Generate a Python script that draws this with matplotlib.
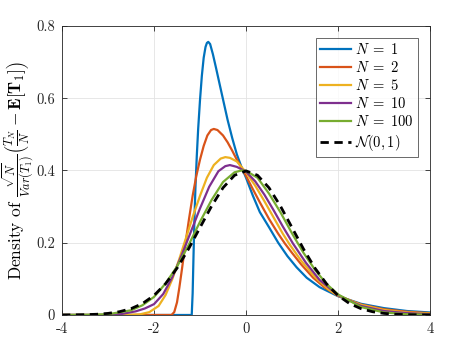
import matplotlib
matplotlib.use("Agg")
import matplotlib.pyplot as plt

plt.rcParams['font.family'] = 'cmr10'
plt.rcParams['mathtext.fontset'] = 'cm'
plt.rcParams['axes.unicode_minus'] = False

# values
x_n1 = [-4.0, -1.18, -1.16, -1.14, -1.12, -1.10, -1.07, -1.04, -1.00, -0.96, -0.92, -0.88,
        -0.85, -0.82, -0.78, -0.72, -0.65, -0.57, -0.50, -0.40, -0.30, -0.20, -0.10, 0.0, 0.15,
        0.30, 0.50, 0.70, 0.90, 1.10, 1.32, 1.60, 2.0, 2.5, 3.0, 3.5, 4.0]
y_n1 = [0.0, 0.0, 0.06, 0.17, 0.27, 0.35, 0.44, 0.515, 0.595, 0.662, 0.712, 0.742,
        0.753, 0.756, 0.75, 0.722, 0.683, 0.637, 0.597, 0.54, 0.49, 0.445, 0.41, 0.38, 0.33,
        0.285, 0.243, 0.20, 0.163, 0.132, 0.103, 0.077, 0.052, 0.031, 0.019, 0.011, 0.007]

x_n2 = [-4.0, -1.62, -1.56, -1.50, -1.45, -1.40, -1.32, -1.24, -1.16, -1.08, -1.0, -0.92,
        -0.84, -0.76, -0.70, -0.62, -0.50, -0.40, -0.30, -0.20, -0.10, 0.0, 0.15, 0.30,
        0.50, 0.70, 0.85, 1.0, 1.2, 1.46, 1.7, 2.0, 2.5, 3.0, 3.5, 4.0]
y_n2 = [0.0, 0.0, 0.008, 0.035, 0.075, 0.12, 0.195, 0.265, 0.33, 0.385, 0.43, 0.468,
        0.497, 0.512, 0.515, 0.512, 0.497, 0.478, 0.455, 0.43, 0.408, 0.385, 0.348, 0.312,
        0.266, 0.225, 0.197, 0.172, 0.14, 0.103, 0.077, 0.053, 0.029, 0.016, 0.009, 0.005]

x_n5 = [-4.0, -2.6, -2.3, -2.1, -1.9, -1.75, -1.6, -1.45, -1.3, -1.15, -1.0, -0.85,
        -0.7, -0.55, -0.45, -0.35, -0.2, 0.0, 0.2, 0.4, 0.6, 0.8, 0.95, 1.2,
        1.5, 1.8, 2.0, 2.5, 3.0, 3.5, 4.0]
y_n5 = [0.0, 0.0, 0.002, 0.008, 0.025, 0.055, 0.10, 0.155, 0.215, 0.275, 0.33, 0.38,
        0.415, 0.433, 0.437, 0.435, 0.425, 0.395, 0.358, 0.315, 0.27, 0.225, 0.195, 0.15,
        0.105, 0.07, 0.054, 0.028, 0.014, 0.007, 0.004]

x_n10 = [-4.0, -3.0, -2.7, -2.4, -2.2, -2.0, -1.8, -1.6, -1.4, -1.2, -1.0, -0.8,
         -0.6, -0.45, -0.35, -0.2, 0.0, 0.2, 0.4, 0.6, 0.8, 1.02, 1.3, 1.6,
         2.0, 2.5, 3.0, 3.5, 4.0]
y_n10 = [0.0, 0.0, 0.003, 0.01, 0.018, 0.03, 0.058, 0.105, 0.165, 0.23, 0.295, 0.355,
         0.398, 0.412, 0.415, 0.41, 0.397, 0.37, 0.333, 0.29, 0.245, 0.198, 0.145, 0.097,
         0.055, 0.025, 0.011, 0.005, 0.002]

x_n100 = [-4.0, -3.5, -3.0, -2.5, -2.25, -2.0, -1.75, -1.5, -1.25, -1.0, -0.75, -0.5,
          -0.25, -0.1, 0.0, 0.25, 0.5, 0.75, 1.0, 1.12, 1.25, 1.5, 1.75, 2.0,
          2.5, 3.0, 3.5, 4.0]
y_n100 = [0.0, 0.0004, 0.002, 0.013, 0.027, 0.05, 0.087, 0.134, 0.193, 0.258, 0.318, 0.368,
          0.395, 0.40, 0.399, 0.38, 0.336, 0.284, 0.226, 0.20, 0.172, 0.125, 0.086, 0.057,
          0.022, 0.007, 0.002, 0.0005]

x_gauss = [-4.0, -3.75, -3.5, -3.25, -3.0, -2.75, -2.5, -2.25, -2.0, -1.75, -1.5, -1.25,
           -1.0, -0.75, -0.5, -0.25, 0.0, 0.25, 0.5, 0.75, 1.0, 1.25, 1.5, 1.75,
           2.0, 2.25, 2.5, 2.75, 3.0, 3.25, 3.5, 3.75, 4.0]
y_gauss = [0.0001, 0.0004, 0.0009, 0.002, 0.0044, 0.0091, 0.0175, 0.0317, 0.054, 0.0863, 0.1295, 0.1826,
           0.242, 0.3011, 0.3521, 0.3867, 0.3989, 0.3867, 0.3521, 0.3011, 0.242, 0.1826, 0.1295, 0.0863,
           0.054, 0.0317, 0.0175, 0.0091, 0.0044, 0.002, 0.0009, 0.0004, 0.0001]

labels = [r'$N\;=\;1$', r'$N\;=\;2$', r'$N\;=\;5$', r'$N\;=\;10$', r'$N\;=\;100$']
colors = ['#0072BD', '#D95319', '#EDB120', '#7E2F8E', '#77AC30']

fig = plt.figure(figsize=(4.74, 3.55), dpi=100)
ax = fig.add_axes([0.1308, 0.1127, 0.7764, 0.8141])

curves = [(x_n1, y_n1), (x_n2, y_n2), (x_n5, y_n5), (x_n10, y_n10), (x_n100, y_n100)]
for (xs, ys), lab, c in zip(curves, labels, colors):
    ax.plot(xs, ys, color=c, lw=1.6, label=lab, solid_joinstyle='round')
ax.plot(x_gauss, y_gauss, 'k--', lw=2.0, dashes=(3, 2), label=r'$\mathcal{N}(0,1)$')

ax.set_xlim(-4, 4)
ax.set_ylim(0, 0.8)
ax.set_xticks([-4, -2, 0, 2, 4])
ax.set_xticklabels(['-4', '-2', '0', '2', '4'])
ax.set_yticks([0, 0.2, 0.4, 0.6, 0.8])
ax.set_yticklabels(['0', '0.2', '0.4', '0.6', '0.8'])
ax.grid(True, color='#e3e3e3', lw=0.6)
ax.set_axisbelow(True)
ax.tick_params(direction='in', length=3.5, width=0.6, top=True, right=True,
               labelsize=10.5, colors='#262626', pad=5)
for sp in ax.spines.values():
    sp.set_color('#262626')
    sp.set_linewidth(0.6)

ax.set_ylabel(r'Density of $\frac{\sqrt{N}}{Var(T_1)}\left(\frac{T_N}{N} - \mathbf{E}[\mathbf{T_1}]\right)$',
              fontsize=12.5, labelpad=0)

leg = ax.legend(loc='upper right', fontsize=10.5, frameon=True, fancybox=False,
                handlelength=2.1, handletextpad=0.3, borderpad=0.3, labelspacing=0.2,
                borderaxespad=0.8)
leg.get_frame().set_edgecolor('#262626')
leg.get_frame().set_linewidth(0.6)

fig.savefig('out.png', dpi=100)
